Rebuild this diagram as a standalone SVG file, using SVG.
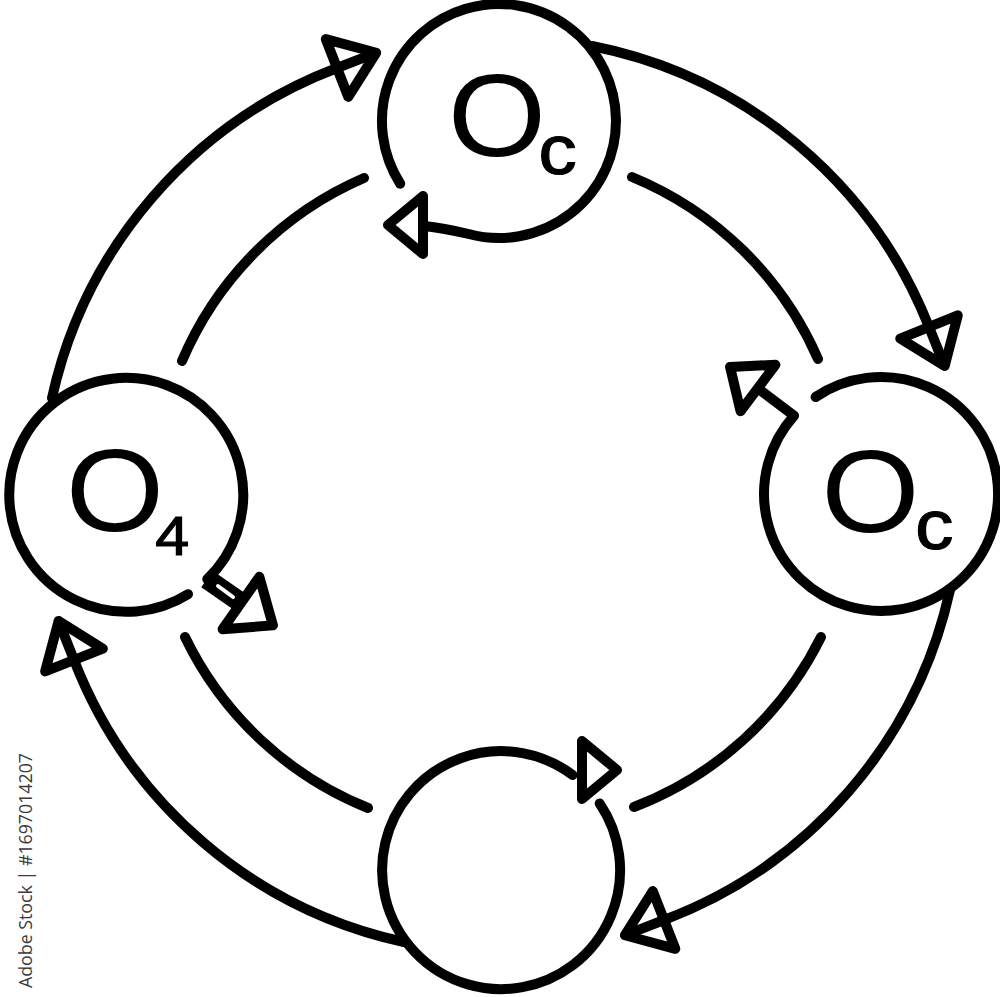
<svg xmlns="http://www.w3.org/2000/svg" width="1000" height="997" viewBox="0 0 1000 997">
<style>
.ln{fill:none;stroke:#000;stroke-width:10;stroke-linecap:round;stroke-linejoin:round}
.hd{fill:#fff;stroke:#000;stroke-width:10;stroke-linejoin:round}
.big{font-family:"Liberation Sans",Arial,sans-serif;font-size:116px;fill:#000}
.sub{font-size:70px;stroke:#000;stroke-width:1.2}
.wm{font-family:"Open Sans","Liberation Sans",sans-serif;font-size:18px;fill:#3a3a3a}
</style>
<defs>
<marker id="open" markerUnits="userSpaceOnUse" viewBox="-10 -45 70 90" markerWidth="70" markerHeight="90" refX="30" refY="0" orient="auto">
<path d="M0,-31 L42,0 L0,31 Z" fill="none" stroke="#000" stroke-width="10" stroke-linejoin="round"/>
</marker>
<path id="tri" d="M0,-29 L35,0 L0,29 Z"/>
<path id="triL" d="M0,-32 L39,0 L0,32 Z"/>
</defs>
<rect width="1000" height="997" fill="#fff"/>
<g id="connectors" class="ln">
<path d="M52,398 A458,458 0 0 1 337,68 L365,57.1" marker-end="url(#open)"/>
<path d="M592,46 A458,458 0 0 1 929,327 L940.2,354.8" marker-end="url(#open)"/>
<path d="M950,590 A458,458 0 0 1 664,920 L636.1,930.9" marker-end="url(#open)"/>
<path d="M404,942 A458,458 0 0 1 74,660 L63,632.1" marker-end="url(#open)"/>
<path d="M182,361 A347,347 0 0 1 364,178"/>
<path d="M632,177 A347,347 0 0 1 818,359"/>
<path d="M821,637 A347,347 0 0 1 634,807"/>
<path d="M368,808 A347,347 0 0 1 185,637"/>
</g>
<g id="node-top">
<path class="ln" d="M400.2,183.7 A117,117 0 1 1 468.7,234 Q443,228 424,226"/>
<use href="#tri" class="hd" transform="translate(423,225) rotate(180)"/>
<text class="big" transform="translate(447.7,155.5) scale(1.09,1)"><tspan letter-spacing="-7">O</tspan><tspan class="sub" dy="18.5">c</tspan></text>
</g>
<g id="node-right">
<path class="ln" d="M815.6,397 A117,117 0 1 1 794.1,415.7 L760,390"/>
<use href="#tri" class="hd" transform="translate(758,388) rotate(217)"/>
<text class="big" transform="translate(821.2,531.5) scale(1.09,1)"><tspan letter-spacing="-4">O</tspan><tspan class="sub" dy="17.5">c</tspan></text>
</g>
<g id="node-bottom">
<path class="ln" d="M599.7,803.5 A119,119 0 1 1 572.6,775"/>
<use href="#tri" class="hd" transform="translate(582,770)"/>
</g>
<g id="node-left">
<path class="ln" d="M188,594.2 A117,117 0 1 1 207.3,579.2"/>
<line x1="207" y1="579" x2="243" y2="604" stroke="#000" stroke-width="20"/>
<line x1="218" y1="586" x2="233" y2="597" stroke="#fff" stroke-width="4" stroke-linecap="round"/>
<use href="#triL" class="hd" transform="translate(241,603) rotate(35)"/>
<text class="big" transform="translate(65.7,530.5) scale(1.09,1)"><tspan letter-spacing="-8">O</tspan><tspan class="sub" style="font-size:56px" dy="24.5">4</tspan></text>
</g>
<text class="wm" transform="translate(32,988) rotate(-90)" textLength="235" lengthAdjust="spacingAndGlyphs">Adobe Stock | #1697014207</text>
</svg>
